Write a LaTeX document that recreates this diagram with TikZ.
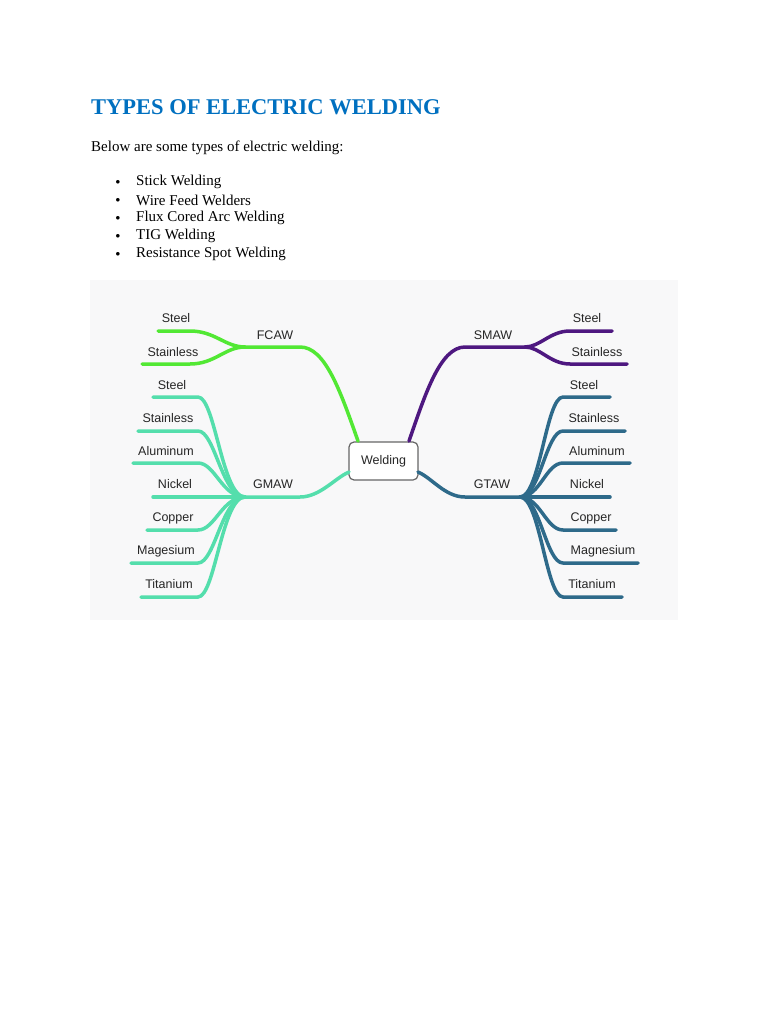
\documentclass[tikz,border=0pt]{standalone}
\usepackage{fontspec}
\setmainfont{Liberation Serif}
\newfontfamily\diafont{Liberation Sans}
\definecolor{titleblue}{RGB}{0,112,192}
\definecolor{cfcaw}{RGB}{82,232,52}
\definecolor{cgmaw}{RGB}{84,222,172}
\definecolor{csmaw}{RGB}{78,24,128}
\definecolor{cgtaw}{RGB}{46,106,138}
\definecolor{panel}{RGB}{248,248,249}
\begin{document}
\begin{tikzpicture}[x=1pt,y=-1pt,
  lbl/.style={font=\diafont\fontsize{12.5}{13}\selectfont, text=black!85, inner sep=0pt},
  br/.style={line width=3.5pt, line cap=round},
  body/.style={font=\fontsize{15}{16}\selectfont, anchor=west, inner sep=0pt}]
\useasboundingbox (0,0) rectangle (768,1024);
\fill[white] (0,0) rectangle (768,1024);
\node[anchor=west, inner sep=0pt, font=\bfseries\fontsize{22.5}{24}\selectfont, text=titleblue] (title) at (91,107) {TYPES OF ELECTRIC WELDING};
\node[body] (intro) at (91,148) {Below are some types of electric welding:};
\foreach \t [count=\i] in {Stick Welding,Wire Feed Welders,Flux Cored Arc Welding,TIG Welding,Resistance Spot Welding}{
  \node[body] (b\i) at (136,164+18*\i) {\t};
  \node[inner sep=0pt, font=\fontsize{9}{9}\selectfont] (d\i) at (118,164+18*\i) {$\bullet$};
}
\fill[panel] (90,280) rectangle (678,620);
% center
\node[draw=black!60, line width=1.2pt, rounded corners=5pt, fill=white, minimum width=69pt, minimum height=38pt, lbl] (weld) at (383.5,461) {Welding};
% hubs
\coordinate (fh) at (245,347);
\coordinate (gh) at (245,497);
\coordinate (sh) at (525,347);
\coordinate (th) at (520,497);
% FCAW
\draw[br,cfcaw] (fh) -- (300,347) .. controls (325,347) and (340,390) .. (358,441);
\draw[br,cfcaw] (158,331) -- (190,331) .. controls (215,331) and (225,347) .. (fh);
\draw[br,cfcaw] (142,364) -- (190,364) .. controls (215,364) and (225,347) .. (fh);
\node[lbl] (fcaw) at (275,335) {FCAW};
\node[lbl] (fs1) at (176,318) {Steel};
\node[lbl] (fs2) at (173,352) {Stainless};
% SMAW
\draw[br,csmaw] (409,441) .. controls (425,395) and (440,347) .. (465,347) -- (sh);
\draw[br,csmaw] (612,331) -- (570,331) .. controls (550,331) and (540,347) .. (sh);
\draw[br,csmaw] (627,364) -- (570,364) .. controls (550,364) and (540,347) .. (sh);
\node[lbl] (smaw) at (493,335) {SMAW};
\node[lbl] (ss1) at (587,318) {Steel};
\node[lbl] (ss2) at (597,352) {Stainless};
% GMAW
\draw[br,cgmaw] (gh) -- (300,497) .. controls (320,497) and (335,478) .. (349,472);
\foreach \y/\x in {397/153,431/138,463/133,497/153,530/147,563/131,597/141}{
  \draw[br,cgmaw] (\x,\y) -- (198,\y) .. controls (215,\y) and (222,497) .. (gh);
}
\node[lbl] (gmaw) at (273,484) {GMAW};
\node[lbl] (g1) at (172,385) {Steel};
\node[lbl] (g2) at (168,418) {Stainless};
\node[lbl] (g3) at (166,451) {Aluminum};
\node[lbl] (g4) at (175,484) {Nickel};
\node[lbl] (g5) at (173,518) {Copper};
\node[lbl] (g6) at (166,551) {Magesium};
\node[lbl] (g7) at (169,584) {Titanium};
% GTAW
\draw[br,cgtaw] (418,472) .. controls (432,478) and (445,497) .. (465,497) -- (th);
\foreach \y/\x in {397/610,431/625,463/630,497/610,530/616,563/638,597/622}{
  \draw[br,cgtaw] (\x,\y) -- (563,\y) .. controls (546,\y) and (540,497) .. (th);
}
\node[lbl] (gtaw) at (492,484) {GTAW};
\node[lbl] (t1) at (584,385) {Steel};
\node[lbl] (t2) at (594,418) {Stainless};
\node[lbl] (t3) at (597,451) {Aluminum};
\node[lbl] (t4) at (587,484) {Nickel};
\node[lbl] (t5) at (591,518) {Copper};
\node[lbl] (t6) at (603,551) {Magnesium};
\node[lbl] (t7) at (592,584) {Titanium};
\end{tikzpicture}
\end{document}
